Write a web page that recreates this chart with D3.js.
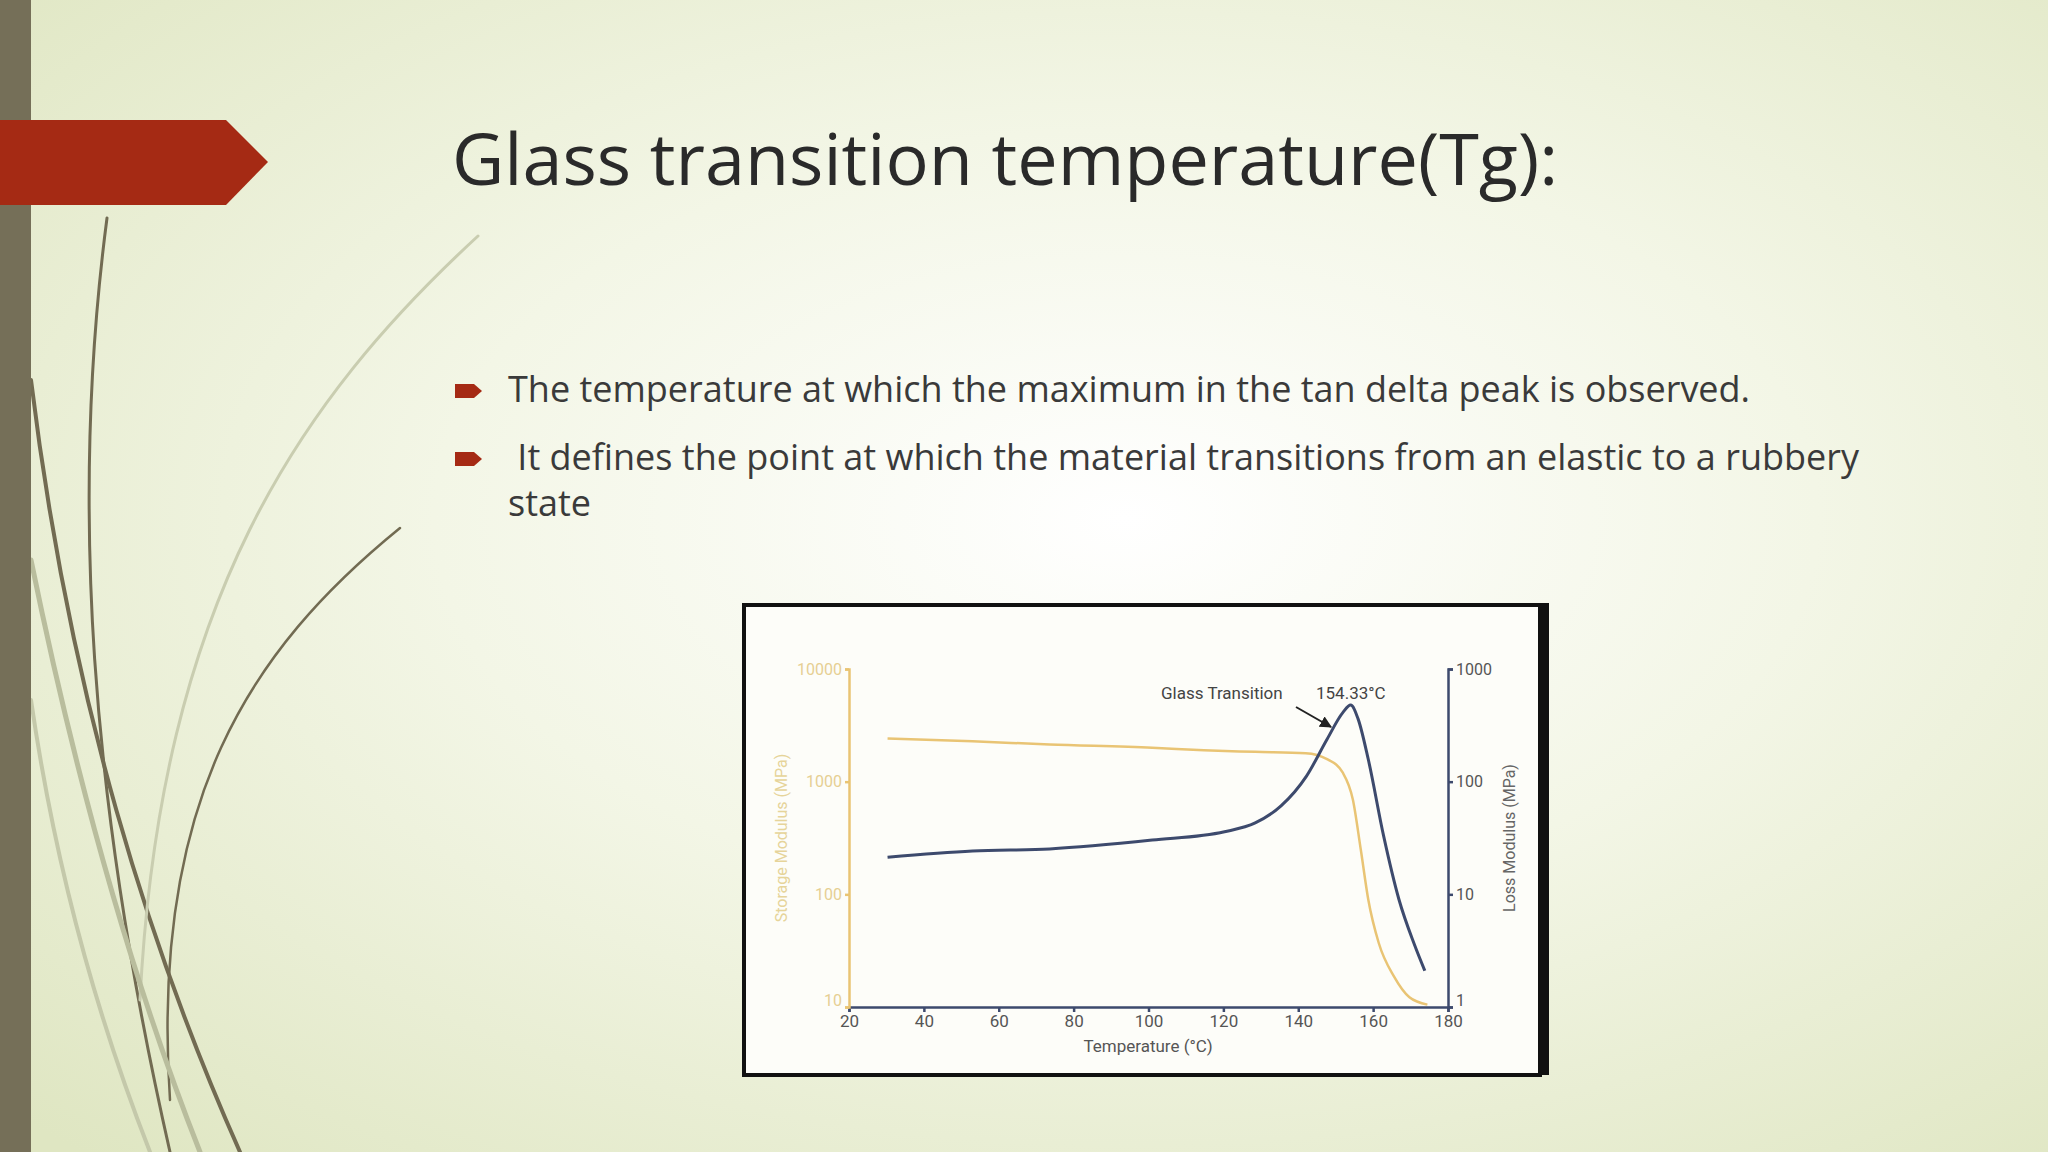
<!DOCTYPE html>
<html><head><meta charset="utf-8">
<script src="https://cdn.jsdelivr.net/npm/d3@7"></script>
<style>body{margin:0;overflow:hidden}</style>
</head><body><div id="slide"></div>
<script>
const temps    = [30.3, 53, 73.6, 101, 114.8, 128.5, 142, 147.7, 151.9, 154.6, 156.7, 158.7, 161.5, 165.6, 169.7, 174.5];
const storage  = [2415, 2280, 2140, 2000, 1900, 1840, 1790, 1585, 1200, 690, 250, 90, 37, 18.6, 12.2, 10.5];
const lossT    = [30.3, 53, 73.6, 101, 120.3, 128.5, 135.4, 142.2, 147.7, 151.9, 154, 156, 158.7, 162.8, 166.9, 171, 173.8];
const loss     = [21.3, 24.2, 25.3, 30.3, 35.9, 43, 60.9, 112, 238, 410, 478, 359, 158, 33, 9.0, 3.6, 2.1];
const xTicks   = [20, 40, 60, 80, 100, 120, 140, 160, 180];
const leftTicks = [10, 100, 1000, 10000];
const rightTicks = [1, 10, 100, 1000];
const bullets = [
  ["The temperature at which the maximum in the tan delta peak is observed."],
  [" It defines the point at which the material transitions from an elastic to a rubbery", "state"]
];

const W = 2048, H = 1152;
const svg = d3.select("#slide").append("svg").attr("width", W).attr("height", H);
const defs = svg.append("defs");
const bg = defs.append("radialGradient").attr("id", "bg").attr("cx", "0.55").attr("cy", "0.45").attr("r", "0.75");
bg.append("stop").attr("offset", "0").attr("stop-color", "#ffffff");
bg.append("stop").attr("offset", "0.45").attr("stop-color", "#f3f6e6");
bg.append("stop").attr("offset", "1").attr("stop-color", "#dfe6c2");
svg.append("rect").attr("width", W).attr("height", H).attr("fill", "url(#bg)");

// decorative curves
const deco = svg.append("g").attr("fill", "none").attr("stroke-linecap", "round");
[
  ["M107,218 C70,500 90,800 170,1152", "#726b52", 3],
  ["M31,380 C70,700 150,950 240,1152", "#726b52", 4],
  ["M400,528 C250,650 150,800 170,1100", "#726b52", 2.5],
  ["M478,236 C300,400 160,600 140,1000", "#c9cdb0", 3],
  ["M31,560 C80,800 140,1000 200,1152", "#b9bd9d", 5],
  ["M31,700 C60,900 110,1050 150,1152", "#c4c8aa", 4]
].forEach(([d, c, w]) => deco.append("path").attr("d", d).attr("stroke", c).attr("stroke-width", w));

svg.append("rect").attr("x", 0).attr("y", 0).attr("width", 31).attr("height", H).attr("fill", "#756f58");
svg.append("path").attr("d", "M0,120 L226,120 L268,162 L226,205 L0,205 Z").attr("fill", "#a52a14");

svg.append("text").attr("x", 452).attr("y", 185).attr("font-family", "'Open Sans', sans-serif")
  .attr("font-size", 72).attr("fill", "#2a2a2a").text("Glass transition temperature(Tg):");

let by = 402;
bullets.forEach(lines => {
  svg.append("path").attr("d", `M455,${by - 18} L474,${by - 18} L482,${by - 11} L474,${by - 4} L455,${by - 4} Z`).attr("fill", "#a52a14");
  lines.forEach((l, i) => {
    svg.append("text").attr("x", 508).attr("y", by + i * 46).attr("font-family", "'Open Sans', sans-serif")
      .attr("font-size", 36).attr("fill", "#3a3a3a").attr("xml:space", "preserve").text(l);
  });
  by += 68;
});

// chart frame
svg.append("rect").attr("x", 742).attr("y", 603).attr("width", 807).attr("height", 470).attr("fill", "#fdfdf9");
svg.append("rect").attr("x", 744).attr("y", 605).attr("width", 796).attr("height", 470).attr("fill", "none").attr("stroke", "#111").attr("stroke-width", 4);
svg.append("rect").attr("x", 1540).attr("y", 603).attr("width", 9).attr("height", 472).attr("fill", "#111");

const x = d3.scaleLinear().domain([20, 180]).range([849, 1448]);
const yL = d3.scaleLog().domain([10, 10000]).range([1007, 669]);
const yR = d3.scaleLog().domain([1, 1000]).range([1007, 669]);
const yellow = "#e9c474", blue = "#3d4a6d";
const tickFont = "'Liberation Sans Narrow', 'Roboto', sans-serif";

const gx = svg.append("g").attr("transform", "translate(0,1007)")
  .call(d3.axisBottom(x).tickValues(xTicks).tickSize(5).tickFormat(d3.format("d")));
gx.selectAll("path,line").attr("stroke", blue).attr("stroke-width", 2.5);
gx.selectAll("text").attr("fill", "#555").attr("font-size", 17).attr("font-family", tickFont);

const gl = svg.append("g").attr("transform", "translate(849,0)")
  .call(d3.axisLeft(yL).tickValues(leftTicks).tickSize(4).tickFormat(d3.format("d")));
gl.selectAll("path,line").attr("stroke", yellow).attr("stroke-width", 2.5);
gl.selectAll("text").attr("fill", "#e6cf93").attr("font-size", 16).attr("font-family", tickFont)
  .attr("dy", d => d === 10 ? "-0.1em" : "0.32em");

const gr = svg.append("g").attr("transform", "translate(1448,0)")
  .call(d3.axisRight(yR).tickValues(rightTicks).tickSize(5).tickFormat(d3.format("d")));
gr.selectAll("path,line").attr("stroke", blue).attr("stroke-width", 2.5);
gr.selectAll("text").attr("fill", "#555").attr("font-size", 16).attr("font-family", tickFont)
  .attr("dy", d => d === 1 ? "-0.1em" : "0.32em");

svg.append("text").attr("x", 1148).attr("y", 1052).attr("text-anchor", "middle").attr("font-family", tickFont)
  .attr("font-size", 17).attr("fill", "#555").text("Temperature (°C)");
svg.append("text").attr("transform", "translate(787,838) rotate(-90)").attr("text-anchor", "middle").attr("font-family", tickFont)
  .attr("font-size", 16).attr("fill", "#e6d49a").text("Storage Modulus (MPa)");
svg.append("text").attr("transform", "translate(1515,838) rotate(-90)").attr("text-anchor", "middle").attr("font-family", tickFont)
  .attr("font-size", 16).attr("fill", "#666").text("Loss Modulus (MPa)");

const line = d3.line().curve(d3.curveMonotoneX);
svg.append("path").attr("d", line(temps.map((t, i) => [x(t), yL(storage[i])])))
  .attr("fill", "none").attr("stroke", yellow).attr("stroke-width", 2.5);
svg.append("path").attr("d", line(lossT.map((t, i) => [x(t), yR(loss[i])])))
  .attr("fill", "none").attr("stroke", blue).attr("stroke-width", 3);

svg.append("text").attr("x", 1161).attr("y", 699).attr("font-family", tickFont).attr("font-size", 17)
  .attr("fill", "#444").text("Glass Transition");
svg.append("text").attr("x", 1316).attr("y", 699).attr("font-family", tickFont).attr("font-size", 17)
  .attr("fill", "#444").text("154.33°C");
defs.append("marker").attr("id", "ah").attr("viewBox", "0 -5 10 10").attr("refX", 9).attr("markerWidth", 6)
  .attr("markerHeight", 6).attr("orient", "auto").append("path").attr("d", "M0,-5L10,0L0,5").attr("fill", "#222");
svg.append("line").attr("x1", 1296).attr("y1", 707).attr("x2", 1331).attr("y2", 727)
  .attr("stroke", "#222").attr("stroke-width", 2).attr("marker-end", "url(#ah)");
</script></body></html>
